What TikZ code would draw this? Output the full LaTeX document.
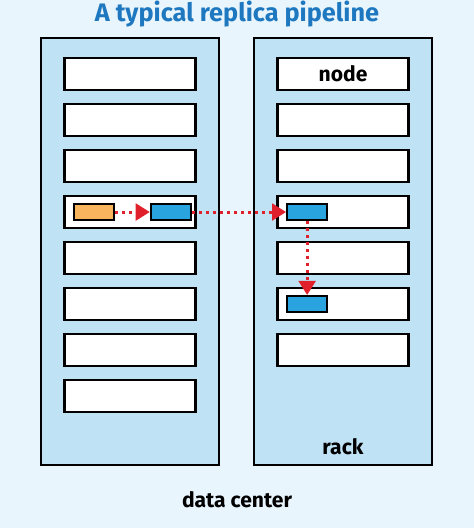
\documentclass[tikz,border=0pt]{standalone}
\usepackage{fontspec}
\setmainfont{Fira Sans}
\usepackage{tikz}
\usetikzlibrary{arrows.meta, positioning}
\definecolor{bgblue}{RGB}{233,245,252}
\definecolor{rackblue}{RGB}{191,227,245}
\definecolor{replblue}{RGB}{42,164,222}
\definecolor{replorange}{RGB}{249,181,94}
\definecolor{pipered}{RGB}{224,32,42}
\definecolor{titleblue}{RGB}{30,120,192}
\tikzset{
  rack/.style={rectangle, draw=black, line width=1.6pt, fill=rackblue,
               minimum width=3.56cm, minimum height=8.54cm},
  server/.style={rectangle, draw=black, line width=1.6pt, fill=white,
                 minimum width=2.62cm, minimum height=0.64cm, inner sep=0pt,
                 font=\large\bfseries},
  replica/.style={rectangle, draw=black, line width=1.2pt, fill=replblue,
                  minimum width=0.8cm, minimum height=0.32cm, inner sep=0pt},
  pipe/.style={-{Triangle[length=8pt,width=9.5pt]}, line width=1.7pt,
               dash pattern=on 1.7pt off 2.3pt, color=pipered},
  caption/.style={font=\large\bfseries, text=black},
}
\begin{document}
\begin{tikzpicture}[node distance=0.224cm]
  \fill[bgblue] (0,0) rectangle (9.48,10.56);
  \useasboundingbox (0,0) rectangle (9.48,10.56);

  \node[font=\Large\bfseries, text=titleblue] (title) at (4.74,10.28) {A typical replica pipeline};

  % two racks
  \node[rack] (lrack) at (2.60,5.53) {};
  \node[rack] (rrack) at (6.86,5.53) {};

  % left rack
  \node[server, below=0.4cm of lrack.north] (l1) {};
  \node[server, below=of l1] (l2) {};
  \node[server, below=of l2] (l3) {};
  \node[server, below=of l3] (l4) {};
  \node[server, below=of l4] (l5) {};
  \node[server, below=of l5] (l6) {};
  \node[server, below=of l6] (l7) {};
  \node[server, below=of l7] (l8) {};

  % right rack
  \node[server, below=0.4cm of rrack.north] (r1) {node};
  \node[server, below=of r1] (r2) {};
  \node[server, below=of r2] (r3) {};
  \node[server, below=of r3] (r4) {};
  \node[server, below=of r4] (r5) {};
  \node[server, below=of r5] (r6) {};
  \node[server, below=of r6] (r7) {};

  \node[caption, above=0.1cm of rrack.south] (racklabel) {rack};
  \node[caption] (dclabel) at (4.74,0.56) {data center};

  % replicas
  \node[replica, fill=replorange, right=0.2cm of l4.west] (src) {};
  \node[replica, left=0.1cm of l4.east] (rep1) {};
  \node[replica, right=0.2cm of r4.west] (rep2) {};
  \node[replica, right=0.2cm of r6.west] (rep3) {};

  \draw[pipe] (src) -- (rep1);
  \draw[pipe] (rep1) -- (rep2);
  \draw[pipe] (rep2) -- (rep3);
\end{tikzpicture}
\end{document}
